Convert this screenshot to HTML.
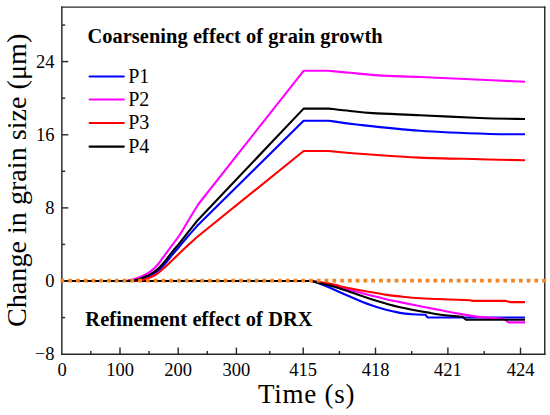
<!DOCTYPE html>
<html><head><meta charset="utf-8"><style>
html,body{margin:0;padding:0;background:#fff;width:550px;height:415px;overflow:hidden}
svg{display:block}
text{font-family:"Liberation Serif",serif;fill:#000;font-variant-ligatures:none;font-kerning:normal}
</style></head><body>
<svg width="550" height="415" viewBox="0 0 550 415">
<rect width="550" height="415" fill="#fff"/>
<line x1="62" y1="281" x2="314" y2="281" stroke="#000" stroke-width="2.1"/>
<path d="M308.00,281.00 L312.00,281.00 C313.33,281.47 317.00,282.67 320.00,283.80 C323.00,284.93 326.67,286.38 330.00,287.80 C333.33,289.22 335.83,290.47 340.00,292.30 C344.17,294.13 350.00,296.72 355.00,298.80 C360.00,300.88 365.00,303.00 370.00,304.80 C375.00,306.60 380.00,308.25 385.00,309.60 C390.00,310.95 395.50,312.13 400.00,312.90 C404.50,313.67 407.75,313.88 412.00,314.20 C416.25,314.52 423.25,314.70 425.50,314.80 L427.50,317.40 L525.00,317.50" fill="none" stroke="#0000ff" stroke-width="2.1" stroke-linejoin="round"/>
<path d="M308.00,281.00 L312.00,281.00 C315.00,281.57 325.33,283.37 330.00,284.40 C334.67,285.43 335.83,286.05 340.00,287.20 C344.17,288.35 350.00,289.97 355.00,291.30 C360.00,292.63 365.00,293.92 370.00,295.20 C375.00,296.48 380.00,297.85 385.00,299.00 C390.00,300.15 391.67,300.42 400.00,302.10 C408.33,303.78 425.00,307.13 435.00,309.10 C445.00,311.07 452.00,312.52 460.00,313.90 C468.00,315.28 475.67,316.60 483.00,317.40 C490.33,318.20 500.50,318.48 504.00,318.70 L508.50,322.40 L525.00,322.40" fill="none" stroke="#ff00ff" stroke-width="2.1" stroke-linejoin="round"/>
<path d="M308.00,281.00 L312.00,281.00 C315.00,281.45 325.33,282.83 330.00,283.70 C334.67,284.57 335.83,285.27 340.00,286.20 C344.17,287.13 350.00,288.33 355.00,289.30 C360.00,290.27 365.00,291.12 370.00,292.00 C375.00,292.88 380.00,293.87 385.00,294.60 C390.00,295.33 394.17,295.80 400.00,296.40 C405.83,297.00 411.67,297.68 420.00,298.20 C428.33,298.72 441.67,299.17 450.00,299.50 C458.33,299.83 466.67,300.08 470.00,300.20 L473.00,300.90 L506.00,300.90 L510.00,302.10 L525.00,302.10" fill="none" stroke="#ff0000" stroke-width="2.1" stroke-linejoin="round"/>
<path d="M308.00,281.00 L312.00,281.00 C313.33,281.38 317.00,282.53 320.00,283.30 C323.00,284.07 326.67,284.72 330.00,285.60 C333.33,286.48 335.83,287.27 340.00,288.60 C344.17,289.93 350.00,291.90 355.00,293.60 C360.00,295.30 365.00,297.18 370.00,298.80 C375.00,300.42 380.00,301.90 385.00,303.30 C390.00,304.70 392.50,305.60 400.00,307.20 C407.50,308.80 422.50,311.55 430.00,312.90 C437.50,314.25 439.58,314.65 445.00,315.30 C450.42,315.95 459.58,316.55 462.50,316.80 L466.00,319.70 L525.00,319.80" fill="none" stroke="#000000" stroke-width="2.1" stroke-linejoin="round"/>
<path d="M62.00,281.00 L128.00,281.00 C129.50,280.88 134.47,280.72 137.00,280.30 C139.53,279.88 140.95,279.33 143.20,278.50 C145.45,277.67 148.08,276.53 150.50,275.30 C152.92,274.07 155.28,273.03 157.70,271.10 C160.12,269.17 162.62,266.35 165.00,263.70 C167.38,261.05 169.50,258.18 172.00,255.20 C174.50,252.22 177.33,248.95 180.00,245.80 C182.67,242.65 185.00,239.77 188.00,236.30 C191.00,232.83 196.33,226.88 198.00,225.00 L303.60,120.70 L329.00,120.70 C333.57,121.33 341.23,122.82 356.40,124.50 C371.57,126.18 397.73,129.22 420.00,130.80 C442.27,132.38 472.50,133.43 490.00,134.00 C507.50,134.57 519.17,134.17 525.00,134.20" fill="none" stroke="#0000ff" stroke-width="2.1" stroke-linejoin="round"/>
<path d="M62.00,281.00 L126.00,281.00 C127.42,280.67 131.63,279.90 134.50,279.00 C137.37,278.10 140.53,276.87 143.20,275.60 C145.87,274.33 148.08,273.22 150.50,271.40 C152.92,269.58 155.53,267.13 157.70,264.70 C159.87,262.27 161.45,259.58 163.50,256.80 C165.55,254.02 167.25,251.72 170.00,248.00 C172.75,244.28 176.83,239.25 180.00,234.50 C183.17,229.75 185.92,224.58 189.00,219.50 C192.08,214.42 196.92,206.58 198.50,204.00 L303.60,70.80 L328.00,70.80 C331.67,71.13 341.58,72.03 350.00,72.80 C358.42,73.57 366.83,74.70 378.50,75.40 C390.17,76.10 404.75,76.35 420.00,77.00 C435.25,77.65 452.50,78.50 470.00,79.30 C487.50,80.10 515.83,81.38 525.00,81.80" fill="none" stroke="#ff00ff" stroke-width="2.1" stroke-linejoin="round"/>
<path d="M62.00,281.00 L129.00,281.00 C130.50,280.95 135.63,280.92 138.00,280.70 C140.37,280.48 141.12,280.28 143.20,279.70 C145.28,279.12 148.08,278.25 150.50,277.20 C152.92,276.15 155.28,275.08 157.70,273.40 C160.12,271.72 162.62,269.25 165.00,267.10 C167.38,264.95 169.50,262.88 172.00,260.50 C174.50,258.12 177.33,255.35 180.00,252.80 C182.67,250.25 185.20,247.80 188.00,245.20 C190.80,242.60 195.33,238.53 196.80,237.20 L303.60,151.00 L328.00,151.00 C335.00,151.58 354.67,153.40 370.00,154.50 C385.33,155.60 401.67,156.82 420.00,157.60 C438.33,158.38 462.50,158.75 480.00,159.20 C497.50,159.65 517.50,160.12 525.00,160.30" fill="none" stroke="#ff0000" stroke-width="2.1" stroke-linejoin="round"/>
<path d="M62.00,281.00 L127.00,281.00 C128.50,280.85 133.30,280.70 136.00,280.10 C138.70,279.50 140.78,278.38 143.20,277.40 C145.62,276.42 148.08,275.58 150.50,274.20 C152.92,272.82 155.28,271.27 157.70,269.10 C160.12,266.93 162.62,264.03 165.00,261.20 C167.38,258.37 169.50,255.20 172.00,252.10 C174.50,249.00 177.33,245.88 180.00,242.60 C182.67,239.32 185.17,236.00 188.00,232.40 C190.83,228.80 195.50,222.90 197.00,221.00 L303.60,108.60 L329.00,108.60 C332.50,109.00 342.72,110.25 350.00,111.00 C357.28,111.75 361.03,112.40 372.70,113.10 C384.37,113.80 402.12,114.38 420.00,115.20 C437.88,116.02 462.50,117.37 480.00,118.00 C497.50,118.63 517.50,118.83 525.00,119.00" fill="none" stroke="#000000" stroke-width="2.1" stroke-linejoin="round"/>
<path d="M61.85,6.45 V354.9" stroke="#303030" stroke-width="1.52" fill="none"/>
<path d="M544.75,6.45 V354.9" stroke="#303030" stroke-width="1.5" fill="none"/>
<path d="M61.1,7.15 H545.5" stroke="#262626" stroke-width="1.42" fill="none"/>
<path d="M61.1,354.2 H545.5" stroke="#262626" stroke-width="1.4" fill="none"/>
<line x1="120" y1="354.2" x2="120" y2="347.59999999999997" stroke="#262626" stroke-width="1.4"/>
<line x1="178.2" y1="354.2" x2="178.2" y2="347.59999999999997" stroke="#262626" stroke-width="1.4"/>
<line x1="236.4" y1="354.2" x2="236.4" y2="347.59999999999997" stroke="#262626" stroke-width="1.4"/>
<line x1="303.2" y1="354.2" x2="303.2" y2="347.59999999999997" stroke="#262626" stroke-width="1.4"/>
<line x1="375.5" y1="354.2" x2="375.5" y2="347.59999999999997" stroke="#262626" stroke-width="1.4"/>
<line x1="447.9" y1="354.2" x2="447.9" y2="347.59999999999997" stroke="#262626" stroke-width="1.4"/>
<line x1="520.5" y1="354.2" x2="520.5" y2="347.59999999999997" stroke="#262626" stroke-width="1.4"/>
<line x1="90.8" y1="354.2" x2="90.8" y2="351.0" stroke="#262626" stroke-width="1.4"/>
<line x1="149.1" y1="354.2" x2="149.1" y2="351.0" stroke="#262626" stroke-width="1.4"/>
<line x1="207.3" y1="354.2" x2="207.3" y2="351.0" stroke="#262626" stroke-width="1.4"/>
<line x1="269.8" y1="354.2" x2="269.8" y2="351.0" stroke="#262626" stroke-width="1.4"/>
<line x1="339.4" y1="354.2" x2="339.4" y2="351.0" stroke="#262626" stroke-width="1.4"/>
<line x1="411.7" y1="354.2" x2="411.7" y2="351.0" stroke="#262626" stroke-width="1.4"/>
<line x1="484.2" y1="354.2" x2="484.2" y2="351.0" stroke="#262626" stroke-width="1.4"/>
<line x1="62" y1="281.0" x2="68.3" y2="281.0" stroke="#262626" stroke-width="1.4"/>
<line x1="62" y1="207.9" x2="68.3" y2="207.9" stroke="#262626" stroke-width="1.4"/>
<line x1="62" y1="134.8" x2="68.3" y2="134.8" stroke="#262626" stroke-width="1.4"/>
<line x1="62" y1="61.6" x2="68.3" y2="61.6" stroke="#262626" stroke-width="1.4"/>
<line x1="62" y1="317.6" x2="65.2" y2="317.6" stroke="#262626" stroke-width="1.4"/>
<line x1="62" y1="244.4" x2="65.2" y2="244.4" stroke="#262626" stroke-width="1.4"/>
<line x1="62" y1="171.3" x2="65.2" y2="171.3" stroke="#262626" stroke-width="1.4"/>
<line x1="62" y1="98.2" x2="65.2" y2="98.2" stroke="#262626" stroke-width="1.4"/>
<line x1="62" y1="25.1" x2="65.2" y2="25.1" stroke="#262626" stroke-width="1.4"/>
<line x1="60.5" y1="280.7" x2="547" y2="280.7" stroke="#f5841f" stroke-width="3.8" stroke-dasharray="3.7 4.07"/>
<text x="62" y="376" font-size="18.5" text-anchor="middle">0</text>
<text x="120" y="376" font-size="18.5" text-anchor="middle">100</text>
<text x="178.2" y="376" font-size="18.5" text-anchor="middle">200</text>
<text x="236.4" y="376" font-size="18.5" text-anchor="middle">300</text>
<text x="303.2" y="376" font-size="18.5" text-anchor="middle">415</text>
<text x="375.5" y="376" font-size="18.5" text-anchor="middle">418</text>
<text x="447.9" y="376" font-size="18.5" text-anchor="middle">421</text>
<text x="520.5" y="376" font-size="18.5" text-anchor="middle">424</text>
<text x="54.5" y="360.4" font-size="18.5" text-anchor="end">−8</text>
<text x="54.5" y="287.3" font-size="18.5" text-anchor="end">0</text>
<text x="54.5" y="214.2" font-size="18.5" text-anchor="end">8</text>
<text x="54.5" y="141.1" font-size="18.5" text-anchor="end">16</text>
<text x="54.5" y="67.9" font-size="18.5" text-anchor="end">24</text>
<text x="258" y="402.8" font-size="27" letter-spacing="0.75">Time (s)</text>
<text transform="translate(25.8,327) rotate(-90)" font-size="28.15">Change in grain size (μm)</text>
<text x="87.4" y="42.8" font-size="20.4" font-weight="bold" letter-spacing="0.07">Coarsening effect of grain growth</text>
<text x="85.3" y="326" font-size="20.4" font-weight="bold" letter-spacing="0.11">Refinement effect of DRX</text>
<line x1="89.6" y1="76.5" x2="123.8" y2="76.5" stroke="#0000ff" stroke-width="2.1" stroke-linecap="round"/>
<text x="128.2" y="82.7" font-size="20">P1</text>
<line x1="89.6" y1="99.5" x2="123.8" y2="99.5" stroke="#ff00ff" stroke-width="2.1" stroke-linecap="round"/>
<text x="128.2" y="105.7" font-size="20">P2</text>
<line x1="89.6" y1="123.0" x2="123.8" y2="123.0" stroke="#ff0000" stroke-width="2.1" stroke-linecap="round"/>
<text x="128.2" y="129.2" font-size="20">P3</text>
<line x1="89.6" y1="146.6" x2="123.8" y2="146.6" stroke="#000000" stroke-width="2.1" stroke-linecap="round"/>
<text x="128.2" y="152.8" font-size="20">P4</text>
</svg>
</body></html>
